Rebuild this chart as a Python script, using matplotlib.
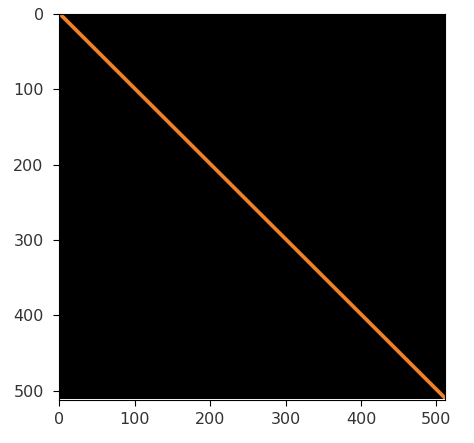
import numpy as np
import matplotlib
matplotlib.use('Agg')
import matplotlib.pyplot as plt

# image size and the diagonal stripe
size = 512
half_width = 3
line_color = [0.95, 0.51, 0.16]

rows, cols = np.indices((size, size))
img = np.zeros((size, size, 3))
img[np.abs(rows - cols) <= half_width] = line_color

fig = plt.figure(figsize=(4.74, 4.43), dpi=100)
ax = fig.add_axes([59 / 474, 1 - 399.5 / 443, 386 / 474, 386 / 443])
ax.imshow(img)
ax.tick_params(labelsize=11.5, length=4.5)
ax.tick_params(axis='y', pad=6.5)
ax.tick_params(axis='x', pad=4.5)
for label in ax.get_xticklabels() + ax.get_yticklabels():
    label.set_color('#333333')

fig.savefig('out.png', dpi=100)
